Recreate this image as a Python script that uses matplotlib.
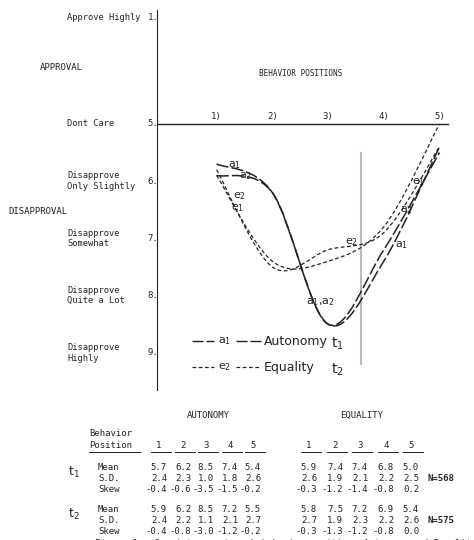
import numpy as np
import matplotlib.pyplot as plt
from matplotlib.path import Path
from matplotlib.patches import PathPatch

positions = [1, 2, 3, 4, 5]
auto_t1_mean = [5.7, 6.2, 8.5, 7.4, 5.4]
auto_t2_mean = [5.9, 6.2, 8.5, 7.2, 5.5]
eq_t1_mean = [5.9, 7.4, 7.4, 6.8, 5.0]
eq_t2_mean = [5.8, 7.5, 7.2, 6.9, 5.4]

auto_t1_sd = [2.4, 2.3, 1.0, 1.8, 2.6]
auto_t1_skew = [-0.4, -0.6, -3.5, -1.5, -0.2]
auto_t2_sd = [2.4, 2.2, 1.1, 2.1, 2.7]
auto_t2_skew = [-0.4, -0.8, -3.0, -1.2, -0.2]
eq_t1_sd = [2.6, 1.9, 2.1, 2.2, 2.5]
eq_t1_skew = [-0.3, -1.2, -1.4, -0.8, 0.2]
eq_t2_sd = [2.7, 1.9, 2.3, 2.2, 2.6]
eq_t2_skew = [-0.3, -1.3, -1.2, -0.8, 0.0]
n_t1, n_t2 = 568, 575

scale_labels = {1: "Approve Highly", 5: "Dont Care", 6: "Disapprove\nOnly Slightly",
                7: "Disapprove\nSomewhat", 8: "Disapprove\nQuite a Lot", 9: "Disapprove\nHighly"}

W, H = 474, 540
fig = plt.figure(figsize=(W / 100, H / 100), dpi=100)
mono = "DejaVu Sans Mono"
ink = "#222222"


def px(x, y):
    return x / W, 1 - y / H


def squash(v):
    v = np.asarray(v, dtype=float)
    return np.where(v >= 5, v - 5, (v - 5) * 26.5 / 57.25)


def unsquash(u):
    u = np.asarray(u, dtype=float)
    return np.where(u >= 0, u + 5, u * 57.25 / 26.5 + 5)


l, b = px(157, 390)
r, t = px(474, 10)
ax = fig.add_axes([l, b, r - l, t - b])
ax.set_yscale("function", functions=(squash, unsquash))
ax.set_xlim(-0.07, 5.62)
ax.set_ylim(9.65, 0.7)
for s in ["top", "right", "bottom"]:
    ax.spines[s].set_visible(False)
ax.spines["left"].set_color(ink)
ax.set_xticks([])
ax.set_yticks([])
ax.axhline(5, xmin=0, xmax=(5.15 + 0.07) / 5.69, color=ink, lw=1)
ax.plot([3.6, 3.6], [5.5, 9.2], color="#bbbbbb", lw=1.5, zorder=0)

for p in positions:
    ax.text(p, 4.9, f"{p})", fontsize=6.5, family=mono, ha="center", va="bottom", color=ink)
ax.text(2.5, 3.2, "BEHAVIOR POSITIONS", fontsize=5.5, family=mono, ha="center", color=ink)

for v, lab in scale_labels.items():
    ax.text(-0.05, v, f"{v}.", fontsize=6.5, family=mono, ha="right", va="center", color=ink)
    ax.text(-1.68, v, lab, fontsize=6.3, family=mono, ha="left", va="center", color=ink,
            clip_on=False)


def smooth(xs, ys, **kw):
    pts = np.column_stack([xs, squash(ys)])
    verts = [pts[0]]
    codes = [Path.MOVETO]
    for i in range(len(pts) - 1):
        p0 = pts[max(i - 1, 0)]
        p1, p2 = pts[i], pts[i + 1]
        p3 = pts[min(i + 2, len(pts) - 1)]
        verts += [p1 + (p2 - p0) / 6, p2 - (p3 - p1) / 6, p2]
        codes += [Path.CURVE4] * 3
    verts = np.array(verts)
    verts[:, 1] = unsquash(verts[:, 1])
    ax.add_patch(PathPatch(Path(verts, codes), fill=False, color=ink, **kw))


smooth(positions, auto_t1_mean, lw=1.1, ls=(0, (8, 2)))
smooth(positions, auto_t2_mean, lw=1.1, ls=(0, (8, 2)))
smooth(positions, eq_t1_mean, lw=0.9, ls=(0, (3, 2)))
smooth(positions, eq_t2_mean, lw=0.9, ls=(0, (3, 2)))

hand = dict(fontsize=8, color=ink, family="DejaVu Sans")
ax.text(1.2, 5.75, "a$_1$", **hand)
ax.text(1.4, 5.95, "a$_2$", **hand)
ax.text(1.3, 6.3, "e$_2$", **hand)
ax.text(1.25, 6.5, "e$_1$", **hand)
ax.text(3.3, 7.1, "e$_2$", **hand)
ax.text(4.2, 7.15, "a$_1$", **hand)
ax.text(4.3, 6.55, "a$_2$", **hand)
ax.text(4.5, 6.05, "e$_1$", **hand)
ax.text(2.6, 8.15, "a$_1$,a$_2$", **hand)

ax.plot([0.55, 0.95], [8.8, 8.8], color=ink, lw=1, ls=(0, (8, 2)))
ax.plot([1.35, 1.8], [8.8, 8.8], color=ink, lw=1, ls=(0, (8, 2)))
ax.text(1.15, 8.8, "a$_1$", va="center", ha="center", **hand)
ax.text(1.85, 8.8, "Autonomy", va="center", fontsize=9, color=ink)
ax.text(3.05, 8.85, "t$_1$", va="center", fontsize=10, color=ink)
ax.plot([0.55, 0.95], [9.25, 9.25], color=ink, lw=0.9, ls=(0, (3, 2)))
ax.plot([1.35, 1.8], [9.25, 9.25], color=ink, lw=0.9, ls=(0, (3, 2)))
ax.text(1.15, 9.25, "e$_2$", va="center", ha="center", **hand)
ax.text(1.85, 9.25, "Equality", va="center", fontsize=9, color=ink)
ax.text(3.05, 9.3, "t$_2$", va="center", fontsize=10, color=ink)

fs = 6.5
fig.text(*px(40, 68), "APPROVAL", fontsize=fs, family=mono, va="center", color=ink)
fig.text(*px(8, 212), "DISAPPROVAL", fontsize=fs, family=mono, va="center", color=ink)

# table
tk = dict(fontsize=fs, family=mono, color=ink, va="center")
auto_x = [161, 185, 208, 232, 255]
eq_x = [311, 337, 362, 388, 413]
fig.text(*px(208, 415), "AUTONOMY", ha="center", **tk)
fig.text(*px(362, 415), "EQUALITY", ha="center", **tk)
fig.text(*px(89, 434), "Behavior", **tk)
fig.text(*px(89, 446), "Position", **tk)
for i, p in enumerate(positions):
    fig.text(*px(auto_x[i] - 5, 446), str(p), **tk)
    fig.text(*px(eq_x[i] - 5, 446), str(p), **tk)
fig.lines.append(plt.Line2D([89 / W, 140 / W], [1 - 452 / H] * 2, color=ink, lw=0.7,
                            transform=fig.transFigure))
for xs in (auto_x, eq_x):
    for x in xs:
        fig.lines.append(plt.Line2D([(x - 10) / W, (x + 10) / W], [1 - 452 / H] * 2,
                                    color=ink, lw=0.7, transform=fig.transFigure))

blocks = [
    (467, "t$_1$", [auto_t1_mean, auto_t1_sd, auto_t1_skew], [eq_t1_mean, eq_t1_sd, eq_t1_skew], n_t1),
    (509, "t$_2$", [auto_t2_mean, auto_t2_sd, auto_t2_skew], [eq_t2_mean, eq_t2_sd, eq_t2_skew], n_t2),
]
for y0, tlab, arows, erows, n in blocks:
    fig.text(*px(68, y0 + 5), tlab, fontsize=9, color=ink, va="center")
    for k, name in enumerate(["Mean", "S.D.", "Skew"]):
        y = y0 + k * 11.5
        fig.text(*px(98, y), name, **tk)
        for i in range(5):
            fig.text(*px(auto_x[i] + 6, y), f"{arows[k][i]:.1f}", ha="right", **tk)
            fig.text(*px(eq_x[i] + 6, y), f"{erows[k][i]:.1f}", ha="right", **tk)
    fig.text(*px(428, y0 + 11.5), f"N={n}", fontsize=fs, family=mono, color=ink,
             va="center", weight="bold")

fig.text(*px(95, 544), "Figure 1:  Consistency at each behavior position: Autonomy and Equality",
         fontsize=fs, family=mono, color=ink, va="center")

fig.savefig("out.png", dpi=100)
